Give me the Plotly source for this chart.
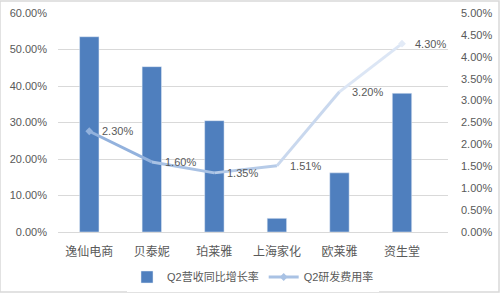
import plotly.graph_objects as go

categories = ["逸仙电商", "贝泰妮", "珀莱雅", "上海家化", "欧莱雅", "资生堂"]
revenue_growth = [53.5, 45.3, 30.5, 3.75, 16.2, 38.0]   # Q2营收同比增长率 (%)
rd_rate = [2.30, 1.60, 1.35, 1.51, 3.20, 4.30]          # Q2研发费用率 (%)
rd_labels = ["2.30%", "1.60%", "1.35%", "1.51%", "3.20%", "4.30%"]
left_ticks = [0, 10, 20, 30, 40, 50, 60]
right_ticks = [0, 0.5, 1, 1.5, 2, 2.5, 3, 3.5, 4, 4.5, 5]

bar_color = "#4F7FBE"
seg_colors = ["#93B2DD", "#A9C2E4", "#B6CBE8", "#C9D8EE", "#DCE6F5"]
font_family = "Liberation Sans, Noto Sans CJK SC, sans-serif"
text_color = "#595959"

fig = go.Figure()
fig.add_trace(go.Bar(
    x=categories, y=revenue_growth, name="Q2营收同比增长率",
    marker=dict(color=bar_color), width=0.31, yaxis="y",
))

for i in range(len(categories) - 1):
    fig.add_trace(go.Scatter(
        x=categories[i:i + 2], y=rd_rate[i:i + 2], yaxis="y2",
        mode="lines", line=dict(color=seg_colors[i], width=3),
        showlegend=False, hoverinfo="skip",
    ))

fig.add_trace(go.Scatter(
    x=[categories[0], categories[-1]], y=[rd_rate[0], rd_rate[-1]], yaxis="y2",
    mode="markers", marker=dict(symbol="diamond", size=6,
                                color=[seg_colors[0], "#E3EBF7"]),
    showlegend=False, hoverinfo="skip",
))

# legend entry for line
fig.add_trace(go.Scatter(
    x=[None], y=[None], yaxis="y2", mode="lines+markers", name="Q2研发费用率",
    line=dict(color="#A9C2E4", width=3),
    marker=dict(symbol="diamond", size=6, color="#A9C2E4"),
))

annotations = [
    dict(x=c, y=v, xref="x", yref="y2", text=t, showarrow=False,
         xanchor="left", yanchor="middle", xshift=11, yshift=0,
         font=dict(size=11, color=text_color, family=font_family))
    for c, v, t in zip(categories, rd_rate, rd_labels)
]

fig.update_layout(
    width=500, height=293,
    margin=dict(l=58, r=52, t=13, b=61),
    paper_bgcolor="white", plot_bgcolor="white",
    font=dict(family=font_family, size=11, color=text_color),
    showlegend=True,
    legend=dict(orientation="h", x=0.5, xanchor="center",
                yref="container", y=1 - 277 / 293, yanchor="middle",
                font=dict(size=11, color=text_color), itemwidth=30,
                tracegroupgap=0),
    xaxis=dict(tickfont=dict(size=12, color=text_color), showgrid=False,
               showline=True, linecolor="#D9D9D9", ticks="", ticklabelstandoff=9,
               automargin=False),
    yaxis=dict(range=[0, 60], tickvals=left_ticks,
               ticktext=[f"{v:.2f}%" for v in left_ticks],
               gridcolor="#D9D9D9", zeroline=False, showline=False,
               ticklabelstandoff=10, automargin=False),
    yaxis2=dict(range=[0, 5], tickvals=right_ticks,
                ticktext=[f"{v:.2f}%" for v in right_ticks],
                overlaying="y", side="right", showgrid=False, zeroline=False,
                showline=False, ticklabelstandoff=12, automargin=False),
    bargap=0.69,
    annotations=annotations,
    shapes=[dict(type="rect", xref="paper", yref="paper",
                 x0=-58 / 390, x1=1 + 51 / 390, y0=-60 / 219, y1=1 + 12 / 219,
                 line=dict(color="#D9D9D9", width=1.5), fillcolor="rgba(0,0,0,0)")],
)

fig.write_html("out.html")
